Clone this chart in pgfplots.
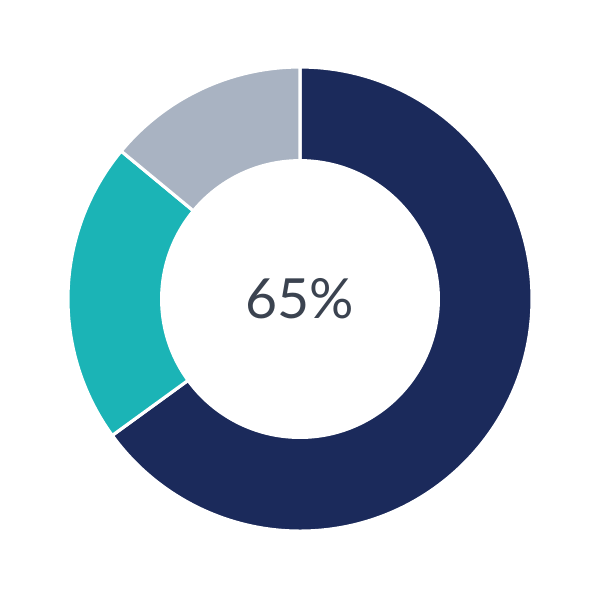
\documentclass[border=0pt]{standalone}
\usepackage{pgfplots}
\usepackage{pgfplotstable}
\pgfplotsset{compat=1.18}
\usepackage{fontspec}
\setmainfont{Lato}

\definecolor{navy}{HTML}{1B2A5B}
\definecolor{tealc}{HTML}{1BB4B6}
\definecolor{slate}{HTML}{A9B3C2}
\definecolor{txt}{HTML}{3B4350}

% shares in percent, clockwise from 12 o'clock
\pgfplotstableread{
share
65
21
14
}\donut

\pgfplotstablegetelem{0}{share}\of\donut \let\sA\pgfplotsretval
\pgfplotstablegetelem{1}{share}\of\donut \let\sB\pgfplotsretval
\pgfplotstablegetelem{2}{share}\of\donut \let\sC\pgfplotsretval
\pgfmathsetmacro{\aA}{90}
\pgfmathsetmacro{\aB}{\aA-3.6*\sA}
\pgfmathsetmacro{\aC}{\aB-3.6*\sB}
\pgfmathsetmacro{\aD}{\aC-3.6*\sC}

% 8cm spans 2.586 axis units
\def\R{3.094cm}
\def\Ri{1.866cm}

\begin{document}
\begin{tikzpicture}
\begin{axis}[
  scale only axis,
  width=8cm, height=7.987cm,
  xmin=-1.293, xmax=1.293,
  ymin=-1.293, ymax=1.289,
  hide axis,
  clip=false]
  \addplot[draw=none] coordinates {(-1.293,-1.293) (1.293,1.289)};
  \fill[navy, draw=white, line width=1.2pt] (axis cs:0,0) -- ++(\aA:\R) arc[start angle=\aA, end angle=\aB, radius=\R] -- cycle;
  \fill[tealc, draw=white, line width=1.2pt] (axis cs:0,0) -- ++(\aB:\R) arc[start angle=\aB, end angle=\aC, radius=\R] -- cycle;
  \fill[slate, draw=white, line width=1.2pt] (axis cs:0,0) -- ++(\aC:\R) arc[start angle=\aC, end angle=\aD, radius=\R] -- cycle;
  \fill[white] (axis cs:0,0) circle[radius=\Ri];
  \node[text=txt, font=\fontsize{21}{25}\selectfont] at (axis cs:0,0) {65\%};
\end{axis}
\end{tikzpicture}
\end{document}
